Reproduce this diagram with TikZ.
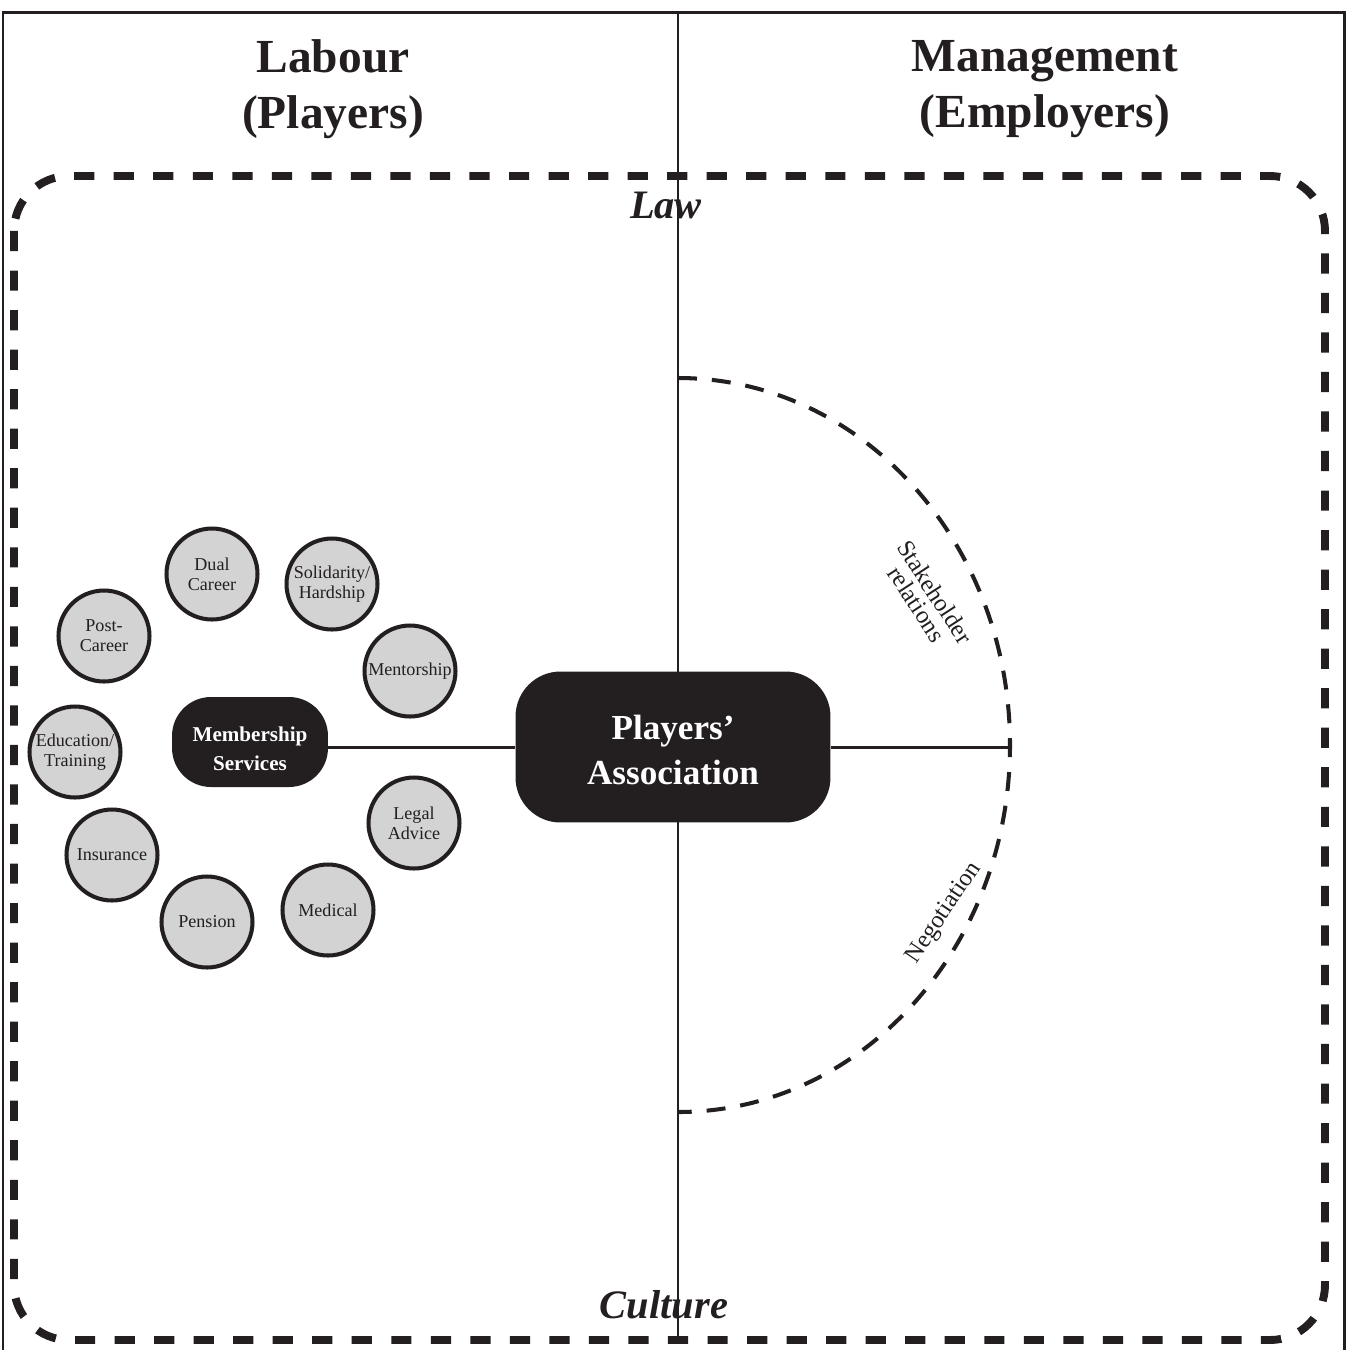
\documentclass[tikz,border=0pt]{standalone}
\usepackage{fontspec}
\setmainfont{Liberation Serif}
\definecolor{ink}{HTML}{231F20}
\definecolor{disc}{HTML}{D3D3D3}
\tikzset{
  frameline/.style={draw=ink, line width=1.7pt},
  midline/.style={draw=ink, line width=1.1pt},
  envelope/.style={draw=ink, line width=4.5pt, dash pattern=on 11.5pt off 11pt, rounded corners=1.1cm},
  arcline/.style={draw=ink, line width=2.3pt, dash pattern=on 10.8pt off 8.5pt},
  link/.style={draw=ink, line width=1.7pt},
  service/.style={circle, draw=ink, fill=disc, line width=2.3pt, minimum size=1.82cm, inner sep=0pt, align=center, font=\fontsize{10.3}{11.3}\selectfont, text=ink},
  pabox/.style={fill=ink, rounded corners=0.9cm, minimum width=6.3cm, minimum height=3.02cm},
  patext/.style={align=center, text=white, font=\bfseries\fontsize{20}{25.5}\selectfont},
  msbox/.style={fill=ink, rounded corners=0.78cm, minimum width=3.12cm, minimum height=1.8cm},
  mstext/.style={align=center, text=white, font=\bfseries\fontsize{12}{16.5}\selectfont},
  heading/.style={align=center, text=ink, font=\bfseries\fontsize{27}{32}\selectfont},
  context/.style={text=ink, font=\bfseries\itshape\fontsize{23}{27}\selectfont},
  arclabel/.style={align=center, text=ink, font=\fontsize{14}{12.5}\selectfont},
}
\begin{document}
\begin{tikzpicture}[x=0.02cm, y=-0.02cm]
\useasboundingbox (0,0) rectangle (1349,1350);
% outer frame
\coordinate (fbl) at (3,1350);
\coordinate (ftl) at (3,12);
\coordinate (ftr) at (1344,12);
\coordinate (fbr) at (1344,1350);
\draw[frameline] (fbl) -- (ftl) -- (ftr) -- (fbr);
% middle divider
\coordinate (vtop) at (678,12);
\coordinate (vbot) at (678,1342);
\draw[midline] (vtop) -- (vbot);
% dashed envelope
\draw[envelope] (14,176) rectangle (1325,1340);
% headings
\node[heading] (labour) at (333,89) {Labour\\(Players)};
\node[heading] (mgmt) at (1045,89) {Management\\(Employers)};
\node[context] (law) at (666,205) {Law};
\node[context] (culture) at (664,1305) {Culture};
% dashed arc
\coordinate (arcT) at (678,378);
\coordinate (arcR) at (1010,749);
\draw[arcline] (arcT) arc[start angle=-90, end angle=90, x radius=332, y radius=367];
% central nodes
\node[pabox] (pa) at (673,747) {};
\node[patext] (patxt) at ([yshift=-0.06cm]pa.center) {Players’\\Association};
\node[msbox] (ms) at (250,742) {};
\node[mstext] (mstxt) at ([yshift=-0.14cm]ms.center) {Membership\\Services};
\draw[link] (ms.east |- pa.west) -- (pa.west);
\draw[link] (pa.east) -- (arcR |- pa.east);
% arc labels
\node[arclabel, rotate=-57] (stake) at (926,598) {Stakeholder\\relations};
\node[arclabel, rotate=56] (nego) at (944,913) {Negotiation};
% service circles
\node[service] (dual) at (212,574) {Dual\\Career};
\node[service] (solid) at (332,584) {Solidarity/\\Hardship};
\node[service] (post) at (104,636) {Post-\\Career};
\node[service] (mentor) at (410,671) {Mentorship};
\node[service] (edu) at (75,752) {Education/\\Training};
\node[service] (legal) at (414,823) {Legal\\Advice};
\node[service] (insur) at (112,855) {Insurance};
\node[service] (medical) at (328,910) {Medical};
\node[service] (pension) at (207,922) {Pension};
\end{tikzpicture}
\end{document}
